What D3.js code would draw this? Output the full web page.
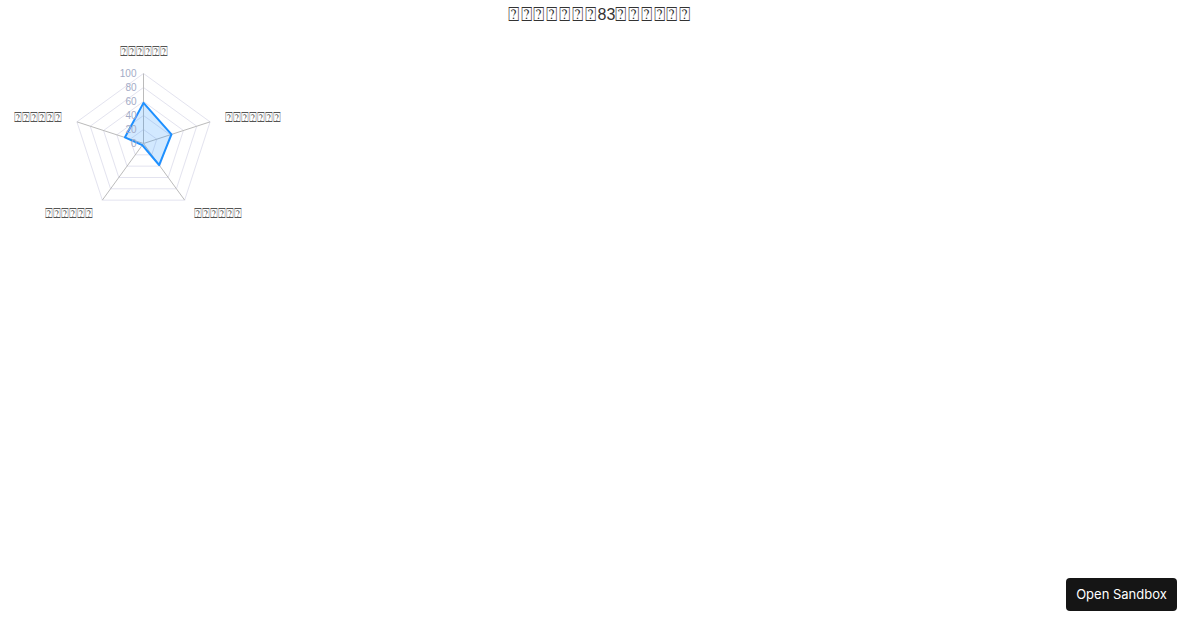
<!DOCTYPE html>
<html>
<head>
<meta charset="utf-8">
<script src="https://cdn.jsdelivr.net/npm/d3@7"></script>
<style>
  body { margin: 0; background: #fff; font-family: "Liberation Sans", Arial, sans-serif; }
  #sandbox {
    position: absolute; right: 23px; bottom: 19px;
    width: 111px; height: 33px;
    background: #151515; color: #fff; border-radius: 4px;
    font: 13px Inter, "Liberation Sans", sans-serif; line-height: 33px; text-align: center;
  }
</style>
</head>
<body>
<svg width="1200" height="630"></svg>
<div id="sandbox">Open Sandbox</div>
<script>
// the reference shows its glyphs as missing-glyph boxes, so they are kept as boxed question marks
var B = '\u2370';
var title = B.repeat(7) + '83' + B.repeat(6);
var categories = [B.repeat(6), B.repeat(7), B.repeat(6), B.repeat(6), B.repeat(6)];
var values = [58, 42, 38, 3, 28];
var ticks = [0, 20, 40, 60, 80, 100];

function main() {
  var svg = d3.select('svg'),
      cx = 143.5, cy = 143.5, R = 70;

  // title: box runs a little larger than the digits
  var runs = title.match(/[\u2370]+|[^\u2370]+/g);
  svg.append('text')
      .attr('x', 600).attr('y', 14)
      .attr('text-anchor', 'middle').attr('dominant-baseline', 'central')
      .attr('fill', '#333')
    .selectAll('tspan').data(runs).enter().append('tspan')
      .attr('font-size', function(s) { return s[0] === B ? 19 : 16; })
      .attr('letter-spacing', function(s) { return s[0] === B ? 1.8 : 0; })
      .text(function(s) { return s; });

  var r = d3.scaleLinear().domain([0, 100]).range([0, R]);
  var ang = d3.scaleLinear().domain([0, categories.length]).range([0, 2 * Math.PI]);
  function pt(i, v) {
    var a = ang(i) - Math.PI / 2;
    return [cx + r(v) * Math.cos(a), cy + r(v) * Math.sin(a)];
  }

  var g = svg.append('g');
  // rings
  g.selectAll('.ring').data(ticks.slice(1)).enter().append('polygon')
      .attr('points', function(t) { return categories.map(function(c, i) { return pt(i, t); }).join(' '); })
      .attr('fill', 'none').attr('stroke', '#e3e3ef').attr('stroke-width', 1);
  // spokes
  g.selectAll('.spoke').data(categories).enter().append('line')
      .attr('x1', cx).attr('y1', cy)
      .attr('x2', function(c, i) { return pt(i, 100)[0]; })
      .attr('y2', function(c, i) { return pt(i, 100)[1]; })
      .attr('stroke', '#bbb').attr('stroke-width', 1);

  // data
  var line = d3.line().curve(d3.curveLinearClosed);
  g.append('path')
      .attr('d', line(values.map(function(v, i) { return pt(i, v); })))
      .attr('fill', 'rgba(30,144,255,0.2)')
      .attr('stroke', '#1e90ff').attr('stroke-width', 2).attr('stroke-linejoin', 'round');

  // tick labels
  g.selectAll('.tick').data(ticks).enter().append('text')
      .attr('x', cx - 7).attr('y', function(t) { return cy - r(t); })
      .attr('text-anchor', 'end').attr('dominant-baseline', 'central')
      .attr('font-size', 10).attr('fill', '#a3abc6')
      .text(function(t) { return t; });

  // point labels
  g.selectAll('.lbl').data(categories).enter().append('text')
      .attr('x', function(c, i) { return pt(i, 122)[0]; })
      .attr('y', function(c, i) { return pt(i, 120)[1] + (i === 0 ? -8 : (i === 2 || i === 3) ? 2 : 0); })
      .attr('text-anchor', function(c, i) {
        var cs = Math.cos(ang(i) - Math.PI / 2);
        return cs > 0.1 ? 'start' : cs < -0.1 ? 'end' : 'middle';
      })
      .attr('dominant-baseline', 'central')
      .attr('font-size', 13).attr('fill', '#555')
      .text(function(c) { return c; });
}
main();
</script>
</body>
</html>
